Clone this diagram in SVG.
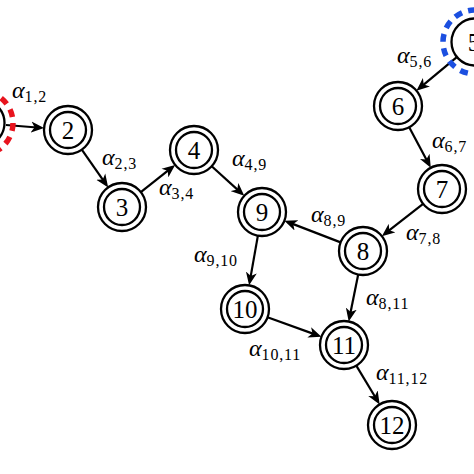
<svg xmlns="http://www.w3.org/2000/svg" width="474" height="474" viewBox="0 0 474 474">
<style>
.o{fill:#fff;stroke:#000;stroke-width:2.3}
.i{fill:none;stroke:#000;stroke-width:2.3}
.n{font-family:"Liberation Serif",serif;font-size:25px;text-anchor:middle;fill:#000}
.e{stroke:#000;stroke-width:2.2;fill:none;marker-end:url(#ah)}
.l{font-family:"Liberation Serif",serif;font-size:24px;font-style:italic;fill:#000}
.s{font-size:16px;font-style:normal;letter-spacing:0.8px}
.red{fill:none;stroke:#e8141e;stroke-width:5.5;stroke-dasharray:8 6.36}
.blue{fill:none;stroke:#1b4fe0;stroke-width:5.5;stroke-dasharray:8 6.36}
</style>
<defs>
<marker id="ah" markerUnits="userSpaceOnUse" markerWidth="14" markerHeight="12" viewBox="0 0 14 12" refX="9" refY="6" orient="auto">
<path d="M0,0.5 L13,6 L0,11.5 L3.5,6 Z" fill="#000"/>
</marker>
</defs>
<g id="edges">
<line class="e" x1="5.9" y1="125" x2="40.1" y2="127.75"/>
<line class="e" x1="81.8" y1="149.6" x2="105.9" y2="184.1"/>
<line class="e" x1="140.8" y1="192.1" x2="172" y2="167.4"/>
<line class="e" x1="211.7" y1="166.2" x2="241.3" y2="193.1"/>
<line class="e" x1="456.5" y1="57.3" x2="419.5" y2="88.1"/>
<line class="e" x1="409.2" y1="127.2" x2="428.9" y2="164.3"/>
<line class="e" x1="423.1" y1="203.8" x2="385" y2="233.7"/>
<line class="e" x1="340.6" y1="242.4" x2="288.1" y2="222.1"/>
<line class="e" x1="257.9" y1="235.6" x2="249.8" y2="281.4"/>
<line class="e" x1="358.2" y1="274.5" x2="349.5" y2="317.5"/>
<line class="e" x1="267.5" y1="317.2" x2="317.7" y2="335.4"/>
<line class="e" x1="356.3" y1="365.6" x2="377.6" y2="401"/>
</g>
<g id="node1">
<circle class="o" cx="-19" cy="123" r="23.5"/>
<circle class="red" cx="-19" cy="123" r="32"/>
</g>
<g id="node5">
<circle class="o" cx="475" cy="42" r="23.5"/>
<text class="n" x="474" y="51">5</text>
<circle class="blue" cx="475" cy="42" r="32"/>
</g>
<g id="node2"><circle class="o" cx="68" cy="130" r="24"/><circle class="i" cx="68" cy="130" r="18"/><text class="n" x="68" y="139">2</text></g>
<g id="node3"><circle class="o" cx="122" cy="207" r="24"/><circle class="i" cx="122" cy="207" r="18"/><text class="n" x="122" y="216">3</text></g>
<g id="node4"><circle class="o" cx="194" cy="150" r="24"/><circle class="i" cx="194" cy="150" r="18"/><text class="n" x="194" y="159">4</text></g>
<g id="node6"><circle class="o" cx="398" cy="106" r="24"/><circle class="i" cx="398" cy="106" r="18"/><text class="n" x="398" y="115">6</text></g>
<g id="node7"><circle class="o" cx="442" cy="189" r="24"/><circle class="i" cx="442" cy="189" r="18"/><text class="n" x="442" y="198">7</text></g>
<g id="node8"><circle class="o" cx="363" cy="251" r="24"/><circle class="i" cx="363" cy="251" r="18"/><text class="n" x="363" y="260">8</text></g>
<g id="node9"><circle class="o" cx="262" cy="212" r="24"/><circle class="i" cx="262" cy="212" r="18"/><text class="n" x="262" y="221">9</text></g>
<g id="node10"><circle class="o" cx="245" cy="309" r="24"/><circle class="i" cx="245" cy="309" r="18"/><text class="n" x="245" y="318">10</text></g>
<g id="node11"><circle class="o" cx="344" cy="345" r="24"/><circle class="i" cx="344" cy="345" r="18"/><text class="n" x="344" y="354">11</text></g>
<g id="node12"><circle class="o" cx="392" cy="425" r="24"/><circle class="i" cx="392" cy="425" r="18"/><text class="n" x="392" y="434">12</text></g>
<g id="labels">
<text class="l" x="12" y="98">α<tspan class="s" dy="4">1,2</tspan></text>
<text class="l" x="102" y="165">α<tspan class="s" dy="4">2,3</tspan></text>
<text class="l" x="159" y="195">α<tspan class="s" dy="4">3,4</tspan></text>
<text class="l" x="232" y="166">α<tspan class="s" dy="4">4,9</tspan></text>
<text class="l" x="397" y="63">α<tspan class="s" dy="4">5,6</tspan></text>
<text class="l" x="432" y="148">α<tspan class="s" dy="4">6,7</tspan></text>
<text class="l" x="406" y="240">α<tspan class="s" dy="4">7,8</tspan></text>
<text class="l" x="311" y="222">α<tspan class="s" dy="4">8,9</tspan></text>
<text class="l" x="194" y="262">α<tspan class="s" dy="4">9,10</tspan></text>
<text class="l" x="366" y="305">α<tspan class="s" dy="4">8,11</tspan></text>
<text class="l" x="249" y="356">α<tspan class="s" dy="4">10,11</tspan></text>
<text class="l" x="376" y="380">α<tspan class="s" dy="4">11,12</tspan></text>
</g>
</svg>
